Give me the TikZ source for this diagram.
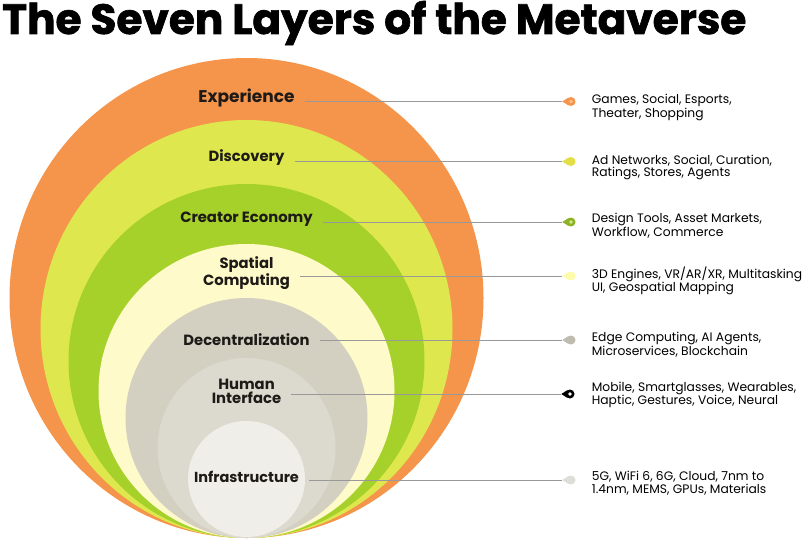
\documentclass[tikz,border=0pt]{standalone}
\usepackage{fontspec}
\setmainfont{Poppins}
\newfontfamily\titlefont{Poppins}[BoldFeatures={FakeBold=1.6}]
\usetikzlibrary{positioning}

\definecolor{expOrange}{HTML}{F4954B}
\definecolor{discYellow}{HTML}{DEE84E}
\definecolor{creaGreen}{HTML}{A6D12B}
\definecolor{spatCream}{HTML}{FEFAC9}
\definecolor{decGray}{HTML}{D3D0C2}
\definecolor{humGray}{HTML}{DCD9CE}
\definecolor{infLight}{HTML}{EFEEE8}
\definecolor{lineGray}{HTML}{999999}
\definecolor{labelText}{HTML}{1E1A17}

\tikzset{
    titletext/.style={
        font=\titlefont\bfseries\fontsize{42.2}{44}\selectfont,
        inner sep=0pt
    },
    layerlabel/.style={
        font=\bfseries\fontsize{14.8}{14}\selectfont,
        align=center,
        text=labelText,
        inner sep=0pt
    },
    usecase/.style={
        font=\fontsize{12.3}{12.5}\selectfont,
        align=left,
        inner sep=0pt
    },
    connector/.style={
        draw=lineGray,
        line width=0.8pt
    },
    layerdot/.style={ % teardrop pointing left
        circle,
        minimum size=9pt,
        inner sep=0pt,
        fill=#1
    }
}

\begin{document}
\begin{tikzpicture}[x=1pt,y=-1pt]
        \useasboundingbox (0,0) rectangle (806,552);
        \def\cx{246.5}
        \def\by{538}

        % title
        \node[titletext, anchor=west] (title) at (2,23) {The Seven Layers of the Metaverse};

        % nested layers, all resting on the same bottom point
        \fill[expOrange]  (\cx,\by-240) ellipse [x radius=237, y radius=240];
        \fill[discYellow] (\cx,\by-209) ellipse [x radius=206, y radius=209];
        \fill[creaGreen]  (\cx,\by-177) ellipse [x radius=178, y radius=177];
        \fill[spatCream]  (\cx,\by-147) ellipse [x radius=148, y radius=147];
        \fill[decGray]    (\cx,\by-120) ellipse [x radius=121, y radius=120];
        \fill[humGray]    (\cx,\by-90)  ellipse [x radius=89, y radius=90];
        \fill[infLight]   (\cx,\by-59)  ellipse [x radius=58.5, y radius=58];

        % layer names
        \node[layerlabel, font=\bfseries\fontsize{17}{17}\selectfont] (expL) at (\cx,98) {Experience};
        \node[layerlabel] (discL) at (\cx,158) {Discovery};
        \node[layerlabel] (creaL) at (\cx,219) {Creator Economy};
        \node[layerlabel] (spatL) at (\cx,273) {Spatial\\Computing};
        \node[layerlabel] (decL) at (\cx,340) {Decentralization};
        \node[layerlabel] (humL) at (\cx,391) {Human\\Interface};
        \node[layerlabel, font=\bfseries\fontsize{14.5}{14}\selectfont] (infL) at (\cx,477) {Infrastructure};

        % markers
        \node[layerdot=expOrange] (expP) at (571,101.5) {};
        \node[layerdot=discYellow!90!orange] (discP) at (571,161.5) {};
        \node[layerdot=creaGreen!85!black] (creaP) at (571,222) {};
        \node[layerdot=spatCream!85!yellow] (spatP) at (571,276) {};
        \node[layerdot=decGray!90!black] (decP) at (571,340) {};
        \node[layerdot=black] (humP) at (570,394) {};
        \node[layerdot=infLight!85!gray] (infP) at (571,480) {};
        \fill[expOrange] (expP.120) -- ([xshift=-4pt]expP.west) -- (expP.240) -- cycle;
        \fill[discYellow!90!orange] (discP.120) -- ([xshift=-4pt]discP.west) -- (discP.240) -- cycle;
        \fill[creaGreen!85!black] (creaP.120) -- ([xshift=-4pt]creaP.west) -- (creaP.240) -- cycle;
        \fill[spatCream!85!yellow] (spatP.120) -- ([xshift=-4pt]spatP.west) -- (spatP.240) -- cycle;
        \fill[decGray!90!black] (decP.120) -- ([xshift=-4pt]decP.west) -- (decP.240) -- cycle;
        \fill[black] (humP.120) -- ([xshift=-4pt]humP.west) -- (humP.240) -- cycle;
        \fill[infLight!85!gray] (infP.120) -- ([xshift=-4pt]infP.west) -- (infP.240) -- cycle;
        \fill[expOrange!60!white] (expP) circle (1.8);
        \fill[creaGreen!50!white] (creaP) circle (1.8);
        \fill[white] (humP) circle (1.8);

        % connectors
        \draw[connector] ([xshift=10pt]expL.east |- expP) -- ([xshift=-4pt]expP.west);
        \draw[connector] ([xshift=10pt]discL.east |- discP) -- ([xshift=-4pt]discP.west);
        \draw[connector] ([xshift=10pt]creaL.east |- creaP) -- ([xshift=-4pt]creaP.west);
        \draw[connector] ([xshift=10pt]spatL.east |- spatP) -- ([xshift=-4pt]spatP.west);
        \draw[connector] ([xshift=10pt]decL.east |- decP) -- ([xshift=-4pt]decP.west);
        \draw[connector] ([xshift=10pt]humL.east |- humP) -- ([xshift=-4pt]humP.west);
        \draw[connector] ([xshift=10pt]infL.east |- infP) -- ([xshift=-4pt]infP.west);

        % what each layer holds
        \node[usecase, right=16pt of expP, yshift=-6pt] (expT) {Games, Social, Esports,\\Theater, Shopping};
        \node[usecase, right=16pt of discP, yshift=-6pt] (discT) {Ad Networks, Social, Curation,\\Ratings, Stores, Agents};
        \node[usecase, right=16pt of creaP, yshift=-4pt] (creaT) {Design Tools, Asset Markets,\\Workflow, Commerce};
        \node[usecase, right=16pt of spatP, yshift=-5pt] (spatT) {3D Engines, VR/AR/XR, Multitasking\\UI, Geospatial Mapping};
        \node[usecase, right=16pt of decP, yshift=-5pt] (decT) {Edge Computing, AI Agents,\\Microservices, Blockchain};
        \node[usecase, right=17pt of humP, yshift=-1pt] (humT) {Mobile, Smartglasses, Wearables,\\Haptic, Gestures, Voice, Neural};
        \node[usecase, right=16pt of infP, yshift=-3pt] (infT) {5G, WiFi 6, 6G, Cloud, 7nm to\\1.4nm, MEMS, GPUs, Materials};
\end{tikzpicture}
\end{document}
